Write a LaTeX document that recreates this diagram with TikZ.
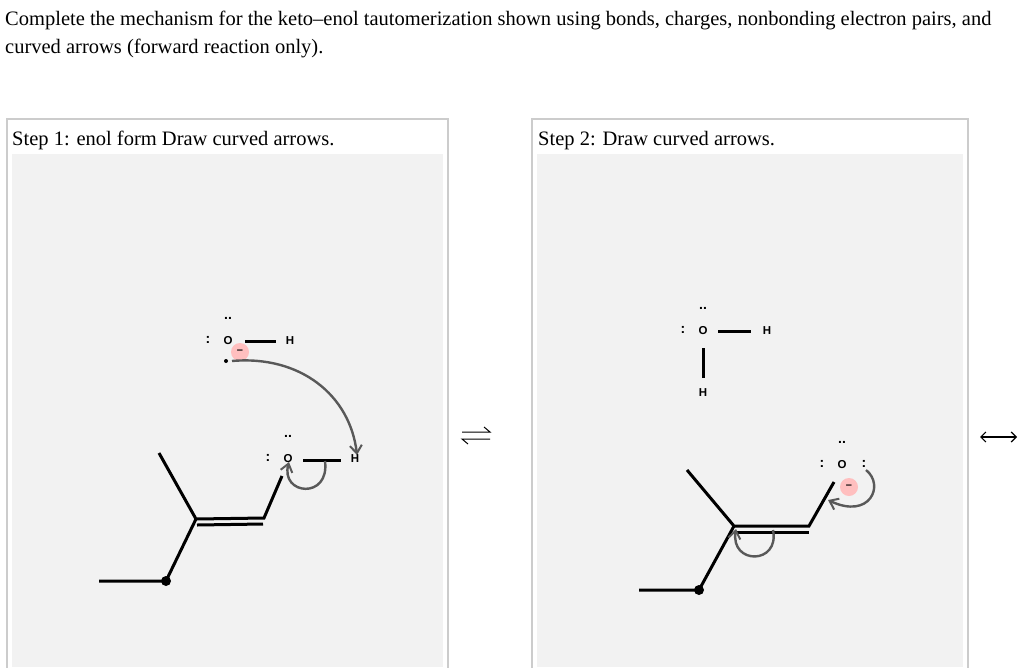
\documentclass[tikz,border=0pt]{standalone}
\usepackage{fontspec}
\setmainfont{Liberation Serif}
\newfontfamily\atomf{Liberation Sans}
\usetikzlibrary{arrows.meta}
\begin{document}
\begin{tikzpicture}[x=1pt,y=-1pt,
  atom/.style={font=\atomf\bfseries\fontsize{11.5}{12}\selectfont,inner sep=0pt},
  lp/.style={font=\atomf\bfseries\fontsize{14}{14}\selectfont,inner sep=0pt},
  bond/.style={line width=3pt},
  carr/.style={draw=black!65,line width=2.4pt,-{Straight Barb[length=8pt,width=12pt,line width=2pt]}},
  chg/.style={circle,fill=red!25,minimum size=18pt,inner sep=0pt,font=\atomf\bfseries\fontsize{11}{11}\selectfont},
  panel/.style={draw=black!20,line width=1.5pt},
  gray/.style={fill=black!5,draw=none},
  ttl/.style={anchor=base west,inner sep=0pt,font=\fontsize{20.5}{24}\selectfont}]
\useasboundingbox (0,0) rectangle (1024,667);
\fill[white] (0,0) rectangle (1024,667);
\node[ttl] (h1) at (5,25) {Complete the mechanism for the keto–enol tautomerization shown using bonds, charges, nonbonding electron pairs, and};
\node[ttl] (h2) at (5,53) {curved arrows (forward reaction only).};
% panels
\draw[panel] (7,119) rectangle (448,670);
\fill[gray] (12,154) rectangle (443,667);
\node[ttl] (t1) at (12,145) {Step 1: enol form Draw curved arrows.};
\draw[panel] (532,119) rectangle (968,670);
\fill[gray] (537,154) rectangle (963,667);
\node[ttl] (t2) at (538,145) {Step 2: Draw curved arrows.};
% ---- step 1
\node[atom] (o1) at (228,341) {O};
\node[atom] (h1a) at (290,341) {H};
\draw[bond] (245,341) -- (276,341);
\node[lp] (lp1) at (208,340) {:};
\node[lp] (lp2) at (228,318) {..};
\node[chg] (c1) at (240,352) {–};
\fill (226,361) circle (2pt);
\coordinate (a1s) at (232,361);
\coordinate (a1e) at (357,455);
\draw[carr] (a1s) .. controls (300,355) and (350,395) .. (a1e);
\node[atom] (o2) at (288,459) {O};
\node[atom] (h2a) at (355,459) {H};
\draw[bond] (303,460) -- (341,460);
\node[lp] (lp3) at (268,458) {:};
\node[lp] (lp4) at (288,436) {..};
\coordinate (b1s) at (325,461);
\coordinate (b1e) at (289,462);
\draw[carr] (b1s) .. controls (330,500) and (280,495) .. (b1e);
\coordinate (m1) at (159,453);
\coordinate (ca) at (196,519);
\coordinate (cb) at (264,518);
\coordinate (cc) at (166,581);
\coordinate (ce) at (99,581);
\draw[bond] (m1) -- (ca) -- (cb) -- (282,476);
\draw[bond] (197,525) -- (263,524);
\draw[bond] (ca) -- (cc) -- (ce);
\fill (cc) circle (5pt);
% equilibrium
\draw[line width=1pt] (462,432) -- (490,432) -- (484,427);
\draw[line width=1pt] (490,439) -- (462,439) -- (468,444);
% ---- step 2
\node[atom] (o3) at (703,331) {O};
\node[atom] (h3) at (767,331) {H};
\draw[bond] (718,331) -- (751,331);
\node[lp] (lp5) at (683,330) {:};
\node[lp] (lp6) at (703,308) {..};
\draw[bond] (703,348) -- (703,378);
\node[atom] (h4) at (703,393) {H};
\node[atom] (o4) at (842,465) {O};
\node[lp] (lp7) at (822,464) {:};
\node[lp] (lp8) at (864,464) {:};
\node[lp] (lp9) at (842,442) {..};
\node[chg] (c2) at (849,487) {–};
\coordinate (m2) at (687,470);
\coordinate (cd) at (734,526);
\coordinate (cf) at (809,526);
\coordinate (cg) at (699,590);
\coordinate (ch) at (639,590);
\draw[bond] (m2) -- (cd) -- (cf) -- (834,482);
\draw[bond] (735,532) -- (809,532);
\draw[bond] (cd) -- (cg) -- (ch);
\fill (cg) circle (5pt);
\coordinate (d1s) at (866,470);
\coordinate (d1e) at (828,500);
\draw[carr] (d1s) .. controls (885,485) and (870,520) .. (d1e);
\coordinate (e1s) at (773,530);
\coordinate (e1e) at (736,529);
\draw[carr] (e1s) .. controls (780,565) and (730,565) .. (e1e);
% resonance arrow
\draw[line width=1.2pt,{Straight Barb[length=5pt]}-{Straight Barb[length=5pt]}] (980,437) -- (1017,437);
\end{tikzpicture}
\end{document}
